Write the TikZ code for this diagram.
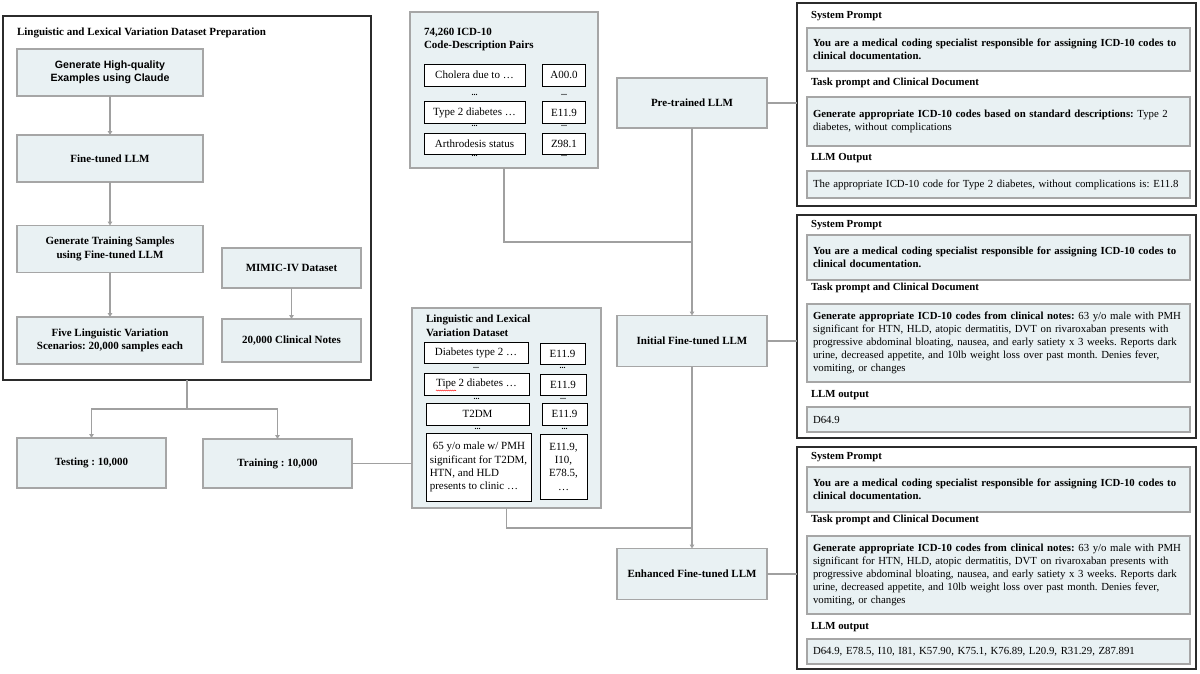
\documentclass[tikz,border=0pt]{standalone}
\usepackage{fontspec}
\setmainfont{Liberation Serif}
\newfontfamily\sansfam{Liberation Sans}
\usetikzlibrary{arrows.meta,decorations.pathmorphing,calc}
\definecolor{boxfill}{HTML}{E9F1F3}
\definecolor{boxline}{HTML}{A6A6A6}
\definecolor{conn}{HTML}{A0A0A0}
\definecolor{panelline}{HTML}{2B2B2B}
\begin{document}
\frenchspacing
\begin{tikzpicture}[x=1pt,y=-1pt,
  every node/.style={inner sep=0pt, outer sep=0pt},
  bluebox/.style={draw=boxline, fill=boxfill, line width=1.5pt, align=center, font=\fontsize{11}{13.5}\selectfont\bfseries},
  whitebox/.style={draw=black, fill=white, line width=1pt, align=center, font=\fontsize{11}{13.3}\selectfont},
  panel/.style={draw=panelline, line width=1.5pt, anchor=north west, minimum width=399pt},
  pbox/.style={draw=boxline, fill=boxfill, line width=1.5pt, align=left, text width=371pt, inner xsep=6pt, anchor=north west, font=\fontsize{10.8}{13}\selectfont},
  hdr/.style={anchor=west, font=\fontsize{10.8}{13}\selectfont\bfseries},
  conline/.style={draw=conn, line width=1.5pt},
  arr/.style={conline, -{Triangle[length=4pt,width=4.5pt]}},
  dotsn/.style={font=\fontsize{8}{8}\selectfont\bfseries},
]
\useasboundingbox (0,0) rectangle (1200,673);

% ---------------- left panel ----------------
\node[draw=panelline, line width=1.5pt, minimum width=368pt, minimum height=364pt, anchor=north west] (PL) at (3,16) {};
\node[anchor=west, font=\fontsize{11}{13}\selectfont\bfseries] (tL) at (17,33) {Linguistic and Lexical Variation Dataset Preparation};
\node[bluebox, minimum width=186pt, minimum height=47pt, font=\sansfam\fontsize{10.6}{13.5}\selectfont\bfseries] (A) at (110,72.5) {Generate High-quality\\Examples using Claude};
\node[bluebox, minimum width=186pt, minimum height=47pt] (B) at (110,158.5) {Fine-tuned LLM};
\node[bluebox, minimum width=186pt, minimum height=47pt] (C) at (110,249) {Generate Training Samples\\using Fine-tuned LLM};
\node[bluebox, minimum width=186pt, minimum height=47pt] (D) at (110,340.5) {Five Linguistic Variation\\Scenarios: 20,000 samples each};
\node[bluebox, minimum width=139pt, minimum height=40pt] (M) at (291.5,268) {MIMIC-IV Dataset};
\node[bluebox, minimum width=139pt, minimum height=43pt] (N) at (291.5,340.5) {20,000 Clinical Notes};
\node[bluebox, minimum width=149pt, minimum height=50pt] (Test) at (91.5,463) {Testing : 10,000};
\node[bluebox, minimum width=149pt, minimum height=49pt] (Train) at (277.5,463.5) {Training : 10,000};

\draw[arr] (A.south) -- (B.north);
\draw[arr] (B.south) -- (C.north);
\draw[arr] (C.south) -- (D.north);
\draw[arr] (M.south) -- (N.north);
\coordinate (jL) at (187,409);
\draw[conline] (PL.south) -- (jL);
\draw[arr] (jL) -| (Test.north);
\draw[arr] (jL) -| (Train.north);

% ---------------- ICD box ----------------
\node[bluebox, minimum width=188pt, minimum height=156pt, anchor=north west] (ICD) at (410,12) {};
\node[anchor=north west, align=left, font=\fontsize{11}{13}\selectfont\bfseries] (ICDt) at (424,28.5) {74,260 ICD-10\\Code-Description Pairs};
\node[whitebox, minimum width=101pt, minimum height=22pt] (i1d) at (474.5,75) {Cholera due to …};
\node[whitebox, minimum width=43pt, minimum height=22pt] (i1c) at (564,75) {A00.0};
\node[dotsn] (i1x) at (474.5,95) {...};
\node[dotsn] (i1y) at (564,95) {...};
\node[whitebox, minimum width=101pt, minimum height=22pt] (i2d) at (474.5,112.5) {Type 2 diabetes …};
\node[whitebox, minimum width=43pt, minimum height=22pt] (i2c) at (564,112.5) {E11.9};
\node[dotsn] (i2x) at (474.5,126) {...};
\node[dotsn] (i2y) at (564,126) {...};
\node[whitebox, minimum width=101pt, minimum height=21pt] (i3d) at (474.5,143.5) {Arthrodesis status};
\node[whitebox, minimum width=43pt, minimum height=21pt] (i3c) at (564,143.5) {Z98.1};
\node[dotsn] (i3x) at (474.5,156) {...};
\node[dotsn] (i3y) at (564,156) {...};

% ---------------- LLV box ----------------
\node[bluebox, minimum width=189pt, minimum height=200pt, anchor=north west] (LLV) at (412,308) {};
\node[anchor=north west, align=left, font=\fontsize{11}{14}\selectfont\bfseries] (LLVt) at (426,314.5) {Linguistic and Lexical\\Variation Dataset};
\node[whitebox, minimum width=104pt, minimum height=21pt] (l1d) at (476,352.5) {Diabetes type 2 …};
\node[whitebox, minimum width=45pt, minimum height=21pt] (l1c) at (562.5,353.5) {E11.9};
\node[dotsn] (l1x) at (476,368) {...};
\node[dotsn] (l1y) at (562.5,368) {...};
\node[whitebox, minimum width=105pt, minimum height=22pt] (l2d) at (476.5,384) {Tipe 2 diabetes …};
\node[whitebox, minimum width=46pt, minimum height=21pt] (l2c) at (563,384.5) {E11.9};
\node[dotsn] (l2x) at (476.5,398.5) {...};
\node[dotsn] (l2y) at (563,398.5) {...};
\node[whitebox, minimum width=103pt, minimum height=22pt] (l3d) at (477.5,414) {T2DM};
\node[whitebox, minimum width=45pt, minimum height=22pt] (l3c) at (564.5,414) {E11.9};
\node[dotsn] (l3x) at (477.5,429) {...};
\node[dotsn] (l3y) at (564.5,429) {...};
\node[whitebox, minimum width=105pt, minimum height=68pt, align=left] (l4d) at (478.5,467) {\hspace{3pt}65 y/o male w/ PMH\\significant for T2DM,\\HTN, and HLD\\presents to clinic …};
\node[whitebox, minimum width=47pt, minimum height=65pt] (l4c) at (563.5,466.5) {E11.9,\\I10,\\E78.5,\\…};
\draw[red, line width=0.5pt, decorate, decoration={snake, amplitude=0.5pt, segment length=2pt}]
  ($(l2d.center)+(-40.5,6.5)$) -- ($(l2d.center)+(-20.5,6.5)$);

\draw[conline] (Train.east) -- (Train.east -| LLV.west);

% ---------------- LLM boxes ----------------
\node[bluebox, minimum width=150pt, minimum height=50pt] (Pre) at (692,103) {Pre-trained LLM};
\node[bluebox, minimum width=150pt, minimum height=51pt] (Init) at (692,341) {Initial Fine-tuned LLM};
\node[bluebox, minimum width=150pt, minimum height=51pt] (Enh) at (692,574) {Enhanced Fine-tuned LLM};

\coordinate (j1) at (692,242);
\coordinate (j2) at (692,528);
\draw[conline] (ICD.south) |- (j1);
\draw[conline] (LLV.south) |- (j2);
\draw[arr] (Pre.south) -- (Init.north);
\draw[arr] (Init.south) -- (Enh.north);

% ---------------- right panels ----------------
\node[panel, minimum height=203pt] (P1) at (797,3) {};
\node[panel, minimum height=223pt] (P2) at (797,215) {};
\node[panel, minimum height=222pt] (P3) at (797,447) {};

\draw[conline] (Pre.east) -- (Pre.east -| P1.west);
\draw[conline] (Init.east) -- (Init.east -| P2.west);
\draw[conline] (Enh.east) -- (Enh.east -| P3.west);

% panel 1
\node[hdr] (p1h1) at (811,16) {System Prompt};
\node[pbox, minimum height=43pt] (p1b1) at (807,28) {\bfseries\mbox{You are a medical coding specialist responsible for assigning ICD-10 codes to}\\\mbox{clinical documentation.}};
\node[hdr] (p1h2) at (811,83) {Task prompt and Clinical Document};
\node[pbox, minimum height=49pt] (p1b2) at (807,97) {\mbox{\textbf{Generate appropriate ICD-10 codes based on standard descriptions:} Type 2}\\\mbox{diabetes, without complications}};
\node[hdr] (p1h3) at (811,158) {LLM Output};
\node[pbox, minimum height=27pt] (p1b3) at (807,171) {\mbox{The appropriate ICD-10 code for Type 2 diabetes, without complications is: E11.8}};

% panel 2
\node[hdr] (p2h1) at (811,225) {System Prompt};
\node[pbox, minimum height=45pt] (p2b1) at (807,235) {\bfseries\mbox{You are a medical coding specialist responsible for assigning ICD-10 codes to}\\\mbox{clinical documentation.}};
\node[hdr] (p2h2) at (811,288) {Task prompt and Clinical Document};
\node[pbox, minimum height=78pt] (p2b2) at (807,304) {\mbox{\textbf{Generate appropriate ICD-10 codes from clinical notes:} 63 y/o male with PMH}\\\mbox{significant for HTN, HLD, atopic dermatitis, DVT on rivaroxaban presents with}\\\mbox{progressive abdominal bloating, nausea, and early satiety x 3 weeks. Reports dark}\\\mbox{urine, decreased appetite, and 10lb weight loss over past month. Denies fever,}\\\mbox{vomiting, or changes}};
\node[hdr] (p2h3) at (811,395) {LLM output};
\node[pbox, minimum height=25pt] (p2b3) at (807,407) {D64.9};

% panel 3
\node[hdr] (p3h1) at (811,457) {System Prompt};
\node[pbox, minimum height=45pt] (p3b1) at (807,467) {\bfseries\mbox{You are a medical coding specialist responsible for assigning ICD-10 codes to}\\\mbox{clinical documentation.}};
\node[hdr] (p3h2) at (811,520) {Task prompt and Clinical Document};
\node[pbox, minimum height=78pt] (p3b2) at (807,536) {\mbox{\textbf{Generate appropriate ICD-10 codes from clinical notes:} 63 y/o male with PMH}\\\mbox{significant for HTN, HLD, atopic dermatitis, DVT on rivaroxaban presents with}\\\mbox{progressive abdominal bloating, nausea, and early satiety x 3 weeks. Reports dark}\\\mbox{urine, decreased appetite, and 10lb weight loss over past month. Denies fever,}\\\mbox{vomiting, or changes}};
\node[hdr] (p3h3) at (811,627) {LLM output};
\node[pbox, minimum height=25pt] (p3b3) at (807,639) {D64.9, E78.5, I10, I81, K57.90, K75.1, K76.89, L20.9, R31.29, Z87.891};
\end{tikzpicture}
\end{document}
